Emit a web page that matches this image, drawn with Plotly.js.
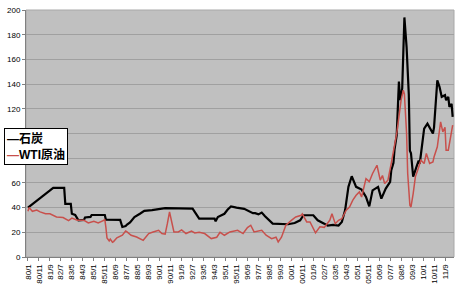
<!DOCTYPE html>
<html>
<head>
<meta charset="utf-8">
<script src="https://cdn.plot.ly/plotly-3.0.1.min.js"></script>
<style>
html,body{margin:0;padding:0;background:#fff;}
#chart{width:474px;height:294px;}
</style>
</head>
<body>
<div id="chart"></div>
<script>
// ---- data ----
const coalMonths = ["1980-01","1981-12","1982-10","1982-11","1983-04","1983-05","1983-08","1983-10","1983-11","1984-04","1984-05","1984-10","1984-11","1985-11","1985-12","1987-01","1987-03","1987-06","1987-07","1987-10","1988-01","1988-02","1988-07","1988-11","1989-06","1990-06","1992-07","1992-10","1993-01","1994-03","1994-04","1994-06","1994-12","1995-03","1995-06","1995-11","1996-06","1997-02","1997-04","1997-07","1997-10","1998-01","1998-08","1999-10","2000-04","2000-09","2000-12","2001-09","2002-01","2002-07","2002-10","2003-03","2003-08","2003-11","2004-02","2004-05","2004-08","2004-12","2005-05","2005-09","2005-12","2006-03","2006-08","2006-11","2007-03","2007-07","2007-08","2007-10","2007-11","2008-01","2008-03","2008-04","2008-06","2008-08","2008-10","2008-12","2009-01","2009-02","2009-04","2009-07","2009-09","2009-10","2010-01","2010-02","2010-05","2010-07","2010-10","2010-11","2011-02","2011-04","2011-06","2011-09","2011-10","2011-12","2012-01","2012-03","2012-04"];
const coalValues = [40,56,56,43,43,35,34,31,29.7,30,32,32.5,34,34,30.3,30,24.3,25,26,28,31,32.4,35,37.3,38,39.5,39.2,35,31,31,29,32.4,35,38.4,41,40,39,35.5,35.5,34.5,36,33,27,26.5,27.5,29.7,33.8,33.8,29.7,27,25.5,26,25.5,28.4,38,56.8,65.4,56.8,54.6,48.6,41,54,56.8,47.3,55.4,60.8,70,76,87,98.7,142,127,136.5,194,170,132,86,84,65,73,78,75.7,94.6,104,108,105,100,105,143,137.8,129.7,131,127,129.7,121.6,124,113.5];

const wtiMonths = ["1980-01","1980-02","1980-05","1980-09","1980-12","1981-05","1981-09","1982-03","1982-09","1982-12","1983-02","1983-05","1983-10","1984-04","1984-08","1985-01","1985-05","1985-10","1985-11","1985-12","1986-01","1986-03","1986-04","1986-06","1986-07","1986-10","1987-01","1987-03","1987-06","1987-07","1987-11","1988-04","1988-10","1989-03","1989-07","1989-12","1990-03","1990-06","1990-08","1990-10","1990-11","1991-01","1991-02","1991-06","1991-09","1992-01","1992-06","1992-09","1993-01","1993-06","1993-12","1994-05","1994-08","1994-12","1995-05","1995-12","1996-05","1996-09","1996-12","1997-03","1997-10","1998-02","1998-07","1998-11","1999-01","1999-04","1999-08","2000-01","2000-05","2000-10","2000-11","2001-03","2001-06","2001-11","2002-03","2002-07","2002-12","2003-02","2003-05","2003-08","2003-11","2004-03","2004-06","2004-09","2004-12","2005-03","2005-05","2005-09","2005-12","2006-03","2006-07","2006-10","2006-12","2007-02","2007-05","2007-08","2007-11","2008-01","2008-03","2008-05","2008-07","2008-08","2008-10","2008-11","2009-01","2009-02","2009-04","2009-06","2009-08","2009-11","2010-02","2010-04","2010-07","2010-10","2010-11","2011-02","2011-05","2011-07","2011-09","2011-10","2011-12","2012-03","2012-04"];
const wtiValues = [37,40,37,38,36.5,35,35,32.4,32,30.3,29.5,31.5,29.7,29.7,27.6,29,27.6,29.7,30.5,24,15.5,13,14.5,12,12.5,15.5,17,17.6,21,20.5,17.6,16.2,13.5,19,20.3,21.6,19,18.5,27,36.5,32.4,24,20.3,20.3,22,19,21,19.5,20,19,14.9,16,20,17.6,20.3,21.6,19,23.8,25.7,20.3,21.6,17.6,14.9,16,12.2,16,25.7,29.7,32.4,33.8,35,28.4,28.4,19.5,24.5,24,29.7,35,27,29.7,31,37.9,40.5,46,50,52.7,48.6,63.5,61,67.6,74.3,62.2,66,59.5,62.2,75.7,89.2,100,113.5,127,135,132,100,67.6,41.9,40.5,51.4,64.9,70,78.4,75.7,83.8,75.7,77,81,89.2,109.4,101.3,105,86.5,86.5,100,106.8];

const tickLabels = ["80/1","80/11","81/9","82/7","83/5","84/3","85/1","85/11","86/9","87/7","88/5","89/3","90/1","90/11","91/9","92/7","93/5","94/3","95/1","95/11","96/9","97/7","98/5","99/3","00/1","00/11","01/9","02/7","03/5","04/3","05/1","05/11","06/9","07/7","08/5","09/3","10/1","10/11","11/9"];

const seriesNames = ["石炭","WTI原油"];

// ---- helpers ----
function monthIndex(s){ const p=s.split("-"); return (parseInt(p[0])-1980)*12 + (parseInt(p[1])-1); }
function labelIndex(l){ const p=l.split("/"); let y=parseInt(p[0]); y = y>=80 ? 1900+y : 2000+y; return (y-1980)*12 + (parseInt(p[1])-1); }

const tickVals = tickLabels.map(labelIndex);

const traces = [
  {x: coalMonths.map(monthIndex), y: coalValues, type:"scatter", mode:"lines", name:seriesNames[0],
   line:{color:"#000000", width:2.2}, showlegend:false},
  {x: wtiMonths.map(monthIndex), y: wtiValues, type:"scatter", mode:"lines", name:seriesNames[1],
   line:{color:"#c8504c", width:1.5}, showlegend:false}
];

const font = "Liberation Sans, Arial, Noto Sans CJK JP, sans-serif";

const layout = {
  width:474, height:294,
  margin:{l:26, r:20, t:10, b:37, pad:0},
  paper_bgcolor:"#ffffff",
  plot_bgcolor:"#c0c0c0",
  font:{family:font, size:8, color:"#000"},
  xaxis:{
    range:[-1.8, 388.2],
    tickmode:"array", tickvals:tickVals, ticktext:tickLabels,
    tickangle:-90, tickfont:{size:8, family:font},
    ticks:"outside", ticklen:3, tickcolor:"#808080",
    showgrid:false, zeroline:false,
    showline:true, linecolor:"#808080", linewidth:1,
    mirror:false, fixedrange:true
  },
  yaxis:{
    range:[0,200], dtick:20,
    tickfont:{size:8, family:font},
    ticks:"outside", ticklen:3, tickcolor:"#808080",
    showgrid:true, gridcolor:"#a0a0a0", gridwidth:1,
    zeroline:false, showline:true, linecolor:"#808080", linewidth:1,
    fixedrange:true
  },
  shapes:[
    {type:"rect", xref:"paper", yref:"paper", x0:0, x1:1, y0:0, y1:1,
     line:{color:"#a8a8a8", width:1}, fillcolor:"rgba(0,0,0,0)", layer:"below"}
  ],
  annotations:[
    {xref:"paper", yref:"paper", x:-0.052, y:0.523, xanchor:"left", yanchor:"top",
     align:"left", showarrow:false,
     text:"<b><span style='color:#000'>—</span>"+seriesNames[0]+"<br><span style='color:#c8504c'>—</span>"+seriesNames[1]+"</b>",
     font:{family:font, size:12, color:"#000"},
     bgcolor:"#ffffff", bordercolor:"#000000", borderwidth:1, borderpad:2}
  ]
};

Plotly.newPlot("chart", traces, layout, {displayModeBar:false, staticPlot:true});
</script>
</body>
</html>
